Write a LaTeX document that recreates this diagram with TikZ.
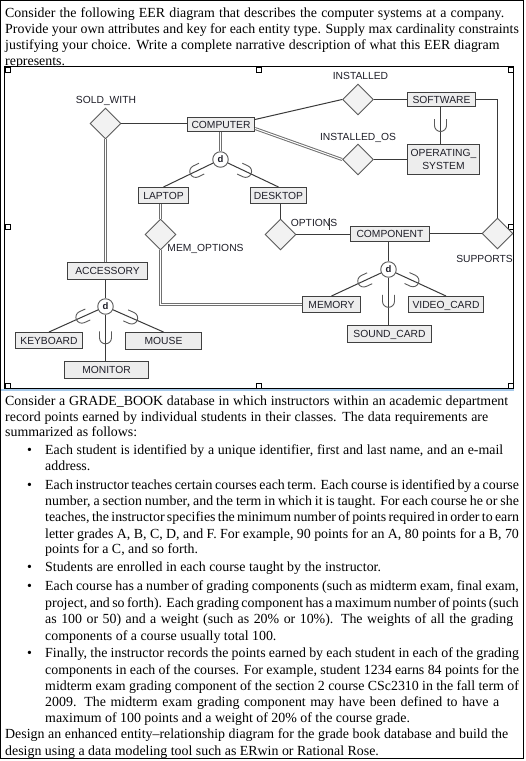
\documentclass[tikz,border=0pt]{standalone}
\usepackage{fontspec}
\setmainfont{Liberation Serif}
\newfontfamily\arialf{Liberation Sans}
\usetikzlibrary{shapes.geometric,decorations.markings}
\definecolor{entfill}{HTML}{EDEDED}
\definecolor{entdraw}{HTML}{404040}
\definecolor{relfill}{HTML}{F2F2F2}
\definecolor{reldraw}{HTML}{5A5A5A}
\definecolor{lnc}{HTML}{3A3A3A}
\definecolor{dblc}{HTML}{707070}
\definecolor{selblue}{HTML}{A6C9EA}
\definecolor{txtc}{HTML}{1E1E28}
\newcommand\jline[2]{\makebox[#1pt][s]{\spaceskip=0.25em plus 0.6em minus 0.17em\relax #2}}
\begin{document}
\begin{tikzpicture}[x=1pt,y=-1pt,
  ent/.style={draw=entdraw, fill=entfill, line width=1pt, inner sep=0pt,
    font=\arialf\fontsize{10.3}{13}\selectfont, text=txtc, align=center},
  ent1/.style={ent, text height=7.4pt, text depth=0pt},
  rel/.style={diamond, aspect=1, draw=reldraw, fill=relfill, line width=0.9pt,
    inner sep=0pt, minimum width=31pt, minimum height=31pt},
  lbl/.style={font=\arialf\fontsize{10.3}{12}\selectfont, text=txtc, inner sep=0pt, anchor=base},
  dcirc/.style={circle, draw=reldraw, fill=white, line width=0.9pt, inner sep=0pt,
    minimum size=15.5pt, font=\arialf\bfseries\fontsize{9.5}{9.5}\selectfont, text=txtc},
  conn/.style={draw=lnc, line width=1pt},
  dconn/.style={draw=dblc, double=white, double distance=1pt, line width=1pt},
  subsetmark/.style={postaction={decorate}, decoration={markings,
    mark=at position #1 with {\draw[reldraw, line width=0.9pt]
      (-6.5pt,6pt) -- (0pt,6pt) arc[start angle=90, end angle=-90, radius=6pt] -- (-6.5pt,-6pt);}}},
  txt/.style={inner sep=0pt, anchor=base west, text=black,
    font=\fontsize{13.9}{16}\selectfont},
  handle/.style={draw=black, fill=white, line width=0.8pt, minimum size=5pt, inner sep=0pt}
]
\useasboundingbox (0,0) rectangle (526,761);
\fill[white] (0,0) rectangle (526,761);
\draw[black, line width=1pt] (0.5,0.5) rectangle (523.5,758.5);

% ---- top paragraph
\node[txt] (t1) at (5,17) {\jline{499}{Consider the following EER diagram that describes the computer systems at a company.}};
\node[txt] (t2) at (5,33.3) {\jline{513.7}{Provide your own attributes and key for each entity type. Supply max cardinality constraints}};
\node[txt] (t3) at (5,49.6) {\jline{494.3}{justifying your choice. Write a complete narrative description of what this EER diagram}};
\node[txt] (t4) at (5,65.5) {represents.};

% ---- image frame
\draw[black, line width=1pt, fill=white] (4.5,66.5) rectangle (513.5,388.5);
\draw[selblue, line width=2pt] (1,390.2) -- (513.5,390.2);
\node[handle, anchor=north west] (h1) at (4.5,66.5) {};
\node[handle, anchor=north] (h2) at (259,66.5) {};
\node[handle, anchor=north east] (h3) at (513.5,66.5) {};
\node[handle, anchor=west] (h4) at (4.5,227) {};
\node[handle, anchor=east] (h5) at (513.5,227) {};
\node[handle, anchor=south west] (h6) at (4.5,388.5) {};
\node[handle, anchor=south] (h7) at (259,388.5) {};
\node[handle, anchor=south east] (h8) at (513.5,388.5) {};

% ---- entities
\node[ent1, minimum width=67pt, minimum height=14pt] (computer) at (221,124.5) {COMPUTER};
\node[ent1, minimum width=68pt, minimum height=14pt] (software) at (441.5,99.5) {SOFTWARE};
\node[ent, minimum width=72pt, minimum height=30pt] (os) at (443.5,159.5) {OPERATING\_\\SYSTEM};
\node[ent1, minimum width=50pt, minimum height=16pt] (laptop) at (163.5,195.5) {LAPTOP};
\node[ent1, minimum width=56pt, minimum height=16pt] (desktop) at (278.5,195.5) {DESKTOP};
\node[ent1, minimum width=79pt, minimum height=15pt] (comp) at (390,234) {COMPONENT};
\node[ent1, minimum width=58pt, minimum height=16pt] (mem) at (331.5,304.5) {MEMORY};
\node[ent1, minimum width=75pt, minimum height=16pt] (video) at (446,304.5) {VIDEO\_CARD};
\node[ent1, minimum width=84pt, minimum height=17pt] (sound) at (389.5,334) {SOUND\_CARD};
\node[ent1, minimum width=80pt, minimum height=17pt] (acc) at (107.5,271) {ACCESSORY};
\node[ent1, minimum width=67pt, minimum height=16pt] (kb) at (49,340.5) {KEYBOARD};
\node[ent1, minimum width=76pt, minimum height=17pt] (mouse) at (163.5,341) {MOUSE};
\node[ent1, minimum width=84pt, minimum height=17pt] (monitor) at (106.5,370) {MONITOR};

% ---- relationships
\node[rel] (sold) at (105.5,123.5) {};
\node[rel] (inst) at (358,99.5) {};
\node[rel] (instos) at (358,159.5) {};
\node[rel] (memopt) at (160.5,234.5) {};
\node[rel] (opt) at (280.5,234.5) {};
\node[rel] (sup) at (497.5,233.5) {};

\node[lbl] (lsold) at (106,103) {SOLD\_WITH};
\node[lbl] (linst) at (360.5,79) {INSTALLED};
\node[lbl] (linstos) at (358,140) {INSTALLED\_OS};
\node[lbl] (lmem) at (205.5,251.5) {MEM\_OPTIONS};
\node[lbl] (lopt) at (314,226.5) {OPTIONS};
\node[lbl] (lsup) at (484.5,262) {SUPPORTS};

% ---- specialization circles
\node[dcirc] (d1) at (220.5,159.5) {d};
\node[dcirc] (d2) at (388.5,269.5) {d};
\node[dcirc] (d3) at (105.5,306.5) {d};

% ---- connectors
\draw[conn] (sold.east) -- (sold.east -| computer.west);
\draw[dconn] (sold.south) -- (sold.south |- acc.north);
\draw[conn] ([yshift=5pt]computer.east) -- (inst.west);
\draw[dconn] ([yshift=-4pt]computer.east) -- (instos.west);
\draw[conn] (inst.east) -- (inst.east -| software.west);
\draw[conn] (instos.east) -- (instos.east -| os.west);
\draw[conn] (software.east) -| (sup.north);
\draw[conn] (sup.west) -- (sup.west -| comp.east);
\draw[conn, subsetmark=0.5] ([xshift=-1pt]software.south) -- ([xshift=-1pt]software.south |- os.north);

\draw[dconn] (computer.south -| d1) -- (d1);
\draw[conn, subsetmark=0.35] (d1) -- (laptop.north);
\draw[conn, subsetmark=0.35] (d1) -- (desktop.north);

\draw[dconn] (laptop.south -| memopt.north) -- (memopt.north);
\draw[dconn] (memopt.south) |- (mem.west);
\draw[conn] (desktop.south -| opt.north) -- (opt.north);
\draw[conn] (opt.east) -- (opt.east -| comp.west);
\coordinate (tk1) at (329.5,218);
\coordinate (tk2) at (329.5,230);
\draw[lnc, line width=0.8pt] (tk1) -- (tk2);

\draw[conn] (comp.south -| d2) -- (d2);
\draw[conn, subsetmark=0.35] (d2) -- (mem.north);
\draw[conn, subsetmark=0.34] (d2) -- (video.north);
\draw[conn, subsetmark=0.5] (d2) -- (d2 |- sound.north);

\draw[conn] (acc.south -| d3) -- (d3);
\draw[conn, subsetmark=0.33] (d3) -- (kb.north);
\draw[conn, subsetmark=0.37] (d3) -- (mouse.north);
\draw[conn, subsetmark=0.5] (d3) -- (d3 |- monitor.north);

% ---- lower text
\node[txt] (p1) at (5,405.7) {\jline{503}{Consider a GRADE\_BOOK database in which instructors within an academic department}};
\node[txt] (p2) at (5,421.3) {\jline{483}{record points earned by individual students in their classes. The data requirements are}};
\node[txt] (p3) at (5,436.9) {summarized as follows:};

\node[txt] (b1) at (27,454) {\textbullet};
\node[txt] (b1a) at (45,454) {\jline{458}{Each student is identified by a unique identifier, first and last name, and an e-mail}};
\node[txt] (b1b) at (45,470.7) {address.};

\node[txt] (b2) at (27,489) {\textbullet};
\node[txt] (b2a) at (45,489) {\jline{473.7}{Each instructor teaches certain courses each term. Each course is identified by a course}};
\node[txt] (b2b) at (45,505.7) {\jline{473.7}{number, a section number, and the term in which it is taught. For each course he or she}};
\node[txt] (b2c) at (45,521.9) {\jline{473.7}{teaches, the instructor specifies the minimum number of points required in order to earn}};
\node[txt] (b2d) at (45,538.2) {\jline{473.7}{letter grades A, B, C, D, and F. For example, 90 points for an A, 80 points for a B, 70}};
\node[txt] (b2e) at (45,553.5) {points for a C, and so forth.};

\node[txt] (b3) at (27,571.7) {\textbullet};
\node[txt] (b3a) at (45,571.7) {Students are enrolled in each course taught by the instructor.};

\node[txt] (b4) at (27,590.7) {\textbullet};
\node[txt] (b4a) at (45,590.7) {\jline{473.7}{Each course has a number of grading components (such as midterm exam, final exam,}};
\node[txt] (b4b) at (45,607.2) {\jline{473.7}{project, and so forth). Each grading component has a maximum number of points (such}};
\node[txt] (b4c) at (45,623.4) {\jline{468}{as 100 or 50) and a weight (such as 20\% or 10\%). The weights of all the grading}};
\node[txt] (b4d) at (45,640) {components of a course usually total 100.};

\node[txt] (b5) at (27,657.3) {\textbullet};
\node[txt] (b5a) at (45,657.3) {\jline{473.7}{Finally, the instructor records the points earned by each student in each of the grading}};
\node[txt] (b5b) at (45,674) {\jline{473.7}{components in each of the courses. For example, student 1234 earns 84 points for the}};
\node[txt] (b5c) at (45,690.7) {\jline{473.7}{midterm exam grading component of the section 2 course CSc2310 in the fall term of}};
\node[txt] (b5d) at (45,706.8) {\jline{454}{2009. The midterm exam grading component may have been defined to have a}};
\node[txt] (b5e) at (45,722.4) {maximum of 100 points and a weight of 20\% of the course grade.};

\node[txt] (q1) at (5,738.4) {\jline{503}{Design an enhanced entity–relationship diagram for the grade book database and build the}};
\node[txt] (q2) at (5,755) {design using a data modeling tool such as ERwin or Rational Rose.};
\end{tikzpicture}
\end{document}
